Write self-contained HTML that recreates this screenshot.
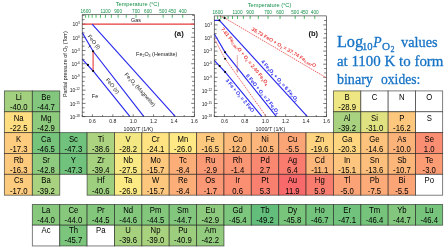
<!DOCTYPE html>
<html><head><meta charset="utf-8"><title>Oxide stability</title>
<style>html,body{margin:0;padding:0;background:#fff}svg{display:block;filter:blur(.35px)}</style></head>
<body>
<svg width="448" height="252" viewBox="0 0 448 252">
<rect width="448" height="252" fill="#fff"/>
<g font-family="'Liberation Sans',sans-serif">
<rect x="214.25" y="15.90" width="112.30" height="100.70" fill="#fff" stroke="none"/>
<path d="M214.25 116.60h3.30M326.55 116.60h-3.30M214.25 112.23h2.40M326.55 112.23h-2.40M214.25 107.87h2.40M326.55 107.87h-2.40M214.25 103.50h3.30M326.55 103.50h-3.30M214.25 99.13h2.40M326.55 99.13h-2.40M214.25 94.77h2.40M326.55 94.77h-2.40M214.25 90.40h3.30M326.55 90.40h-3.30M214.25 86.03h2.40M326.55 86.03h-2.40M214.25 81.67h2.40M326.55 81.67h-2.40M214.25 77.30h3.30M326.55 77.30h-3.30M214.25 72.93h2.40M326.55 72.93h-2.40M214.25 68.57h2.40M326.55 68.57h-2.40M214.25 64.20h3.30M326.55 64.20h-3.30M214.25 59.83h2.40M326.55 59.83h-2.40M214.25 55.47h2.40M326.55 55.47h-2.40M214.25 51.10h3.30M326.55 51.10h-3.30M214.25 46.73h2.40M326.55 46.73h-2.40M214.25 42.37h2.40M326.55 42.37h-2.40M214.25 38.00h3.30M326.55 38.00h-3.30M214.25 33.63h2.40M326.55 33.63h-2.40M214.25 29.27h2.40M326.55 29.27h-2.40M214.25 24.90h3.30M326.55 24.90h-3.30M214.25 20.53h2.40M326.55 20.53h-2.40M214.25 116.60v-1.60M224.45 116.60v-2.30M234.65 116.60v-1.60M244.85 116.60v-2.30M255.05 116.60v-1.60M265.25 116.60v-2.30M275.45 116.60v-1.60M285.65 116.60v-2.30M295.85 116.60v-1.60M306.05 116.60v-2.30M316.25 116.60v-1.60M326.45 116.60v-2.30" stroke="#222" stroke-width=".6" fill="none"/>
<path d="M314.78 15.90v3.1M295.18 15.90v3.1M280.07 15.90v3.1M268.06 15.90v3.1M258.30 15.90v3.1M250.20 15.90v3.1M243.37 15.90v3.1M237.53 15.90v3.1M232.49 15.90v3.1M228.09 15.90v3.1M224.21 15.90v3.1M220.77 15.90v3.1M217.70 15.90v3.1M304.30 15.90v3.1" stroke="#20b040" stroke-width=".8" fill="none"/>
<g font-size="4.7" fill="#15904a" text-anchor="middle">
<text x="217.70" y="13.70">1600</text>
<text x="237.53" y="13.70">1100</text>
<text x="250.20" y="13.70">900</text>
<text x="268.06" y="13.70">700</text>
<text x="280.07" y="13.70">600</text>
<text x="295.18" y="13.70">500</text>
<text x="304.30" y="13.70">450</text>
<text x="314.78" y="13.70">400</text>
</g>
<text x="269.53" y="7.20" font-size="5.7" fill="#15904a" text-anchor="middle">Temperature (°C)</text>
<g font-size="5.1" fill="#222" text-anchor="middle">
<text x="224.45" y="123.00">0.6</text>
<text x="244.85" y="123.00">0.8</text>
<text x="265.25" y="123.00">1.0</text>
<text x="285.65" y="123.00">1.2</text>
<text x="306.05" y="123.00">1.4</text>
<text x="326.45" y="123.00">1.6</text>
</g>
<text x="270.35" y="131.10" font-size="5.35" fill="#222" text-anchor="middle">1000/<tspan font-style="italic">T</tspan> (1/K)</text>
<g font-size="5" fill="#222" text-anchor="end">
<text x="211.95" y="27.10">10<tspan font-size="3.2" dy="-2">3</tspan></text>
<text x="211.95" y="40.20">10<tspan font-size="3.2" dy="-2">0</tspan></text>
<text x="211.95" y="53.30">10<tspan font-size="3.2" dy="-2">-3</tspan></text>
<text x="211.95" y="66.40">10<tspan font-size="3.2" dy="-2">-6</tspan></text>
<text x="211.95" y="79.50">10<tspan font-size="3.2" dy="-2">-9</tspan></text>
<text x="211.95" y="92.60">10<tspan font-size="3.2" dy="-2">-12</tspan></text>
<text x="211.95" y="105.70">10<tspan font-size="3.2" dy="-2">-15</tspan></text>
<text x="211.95" y="118.80">10<tspan font-size="3.2" dy="-2">-18</tspan></text>
</g>
<g fill="none" stroke-width="1.15">
<path d="M214.25 20.3H219.4L307.4 116.6M214.25 33.7L225.1 52.3L276.4 116.6M214.25 60.3L225.1 72L262 116.6" stroke="#2b2bee"/>
<path d="M219.8 15.9L224.7 18L326.55 77.9M214.25 38.7L225.1 58.7L266.3 116.6" stroke="#e83a3a" stroke-width=".85" stroke-dasharray="1.3 .9"/>
<path d="M237.3 55V71.5M236.5 69.6L237.3 72.4L238.1 69.6" stroke="#c46a6a" stroke-width=".55"/>
</g>
<g fill="#000"><circle cx="219.4" cy="20.3" r="1.05"/><circle cx="224.7" cy="18.1" r="1.05"/><circle cx="225.1" cy="52.3" r="1.05"/><circle cx="225.1" cy="58.7" r="1.05"/><circle cx="219.7" cy="66" r="1.05"/><circle cx="225.1" cy="72" r="1.05"/></g>
<rect x="214.25" y="15.90" width="112.30" height="100.70" fill="none" stroke="#333" stroke-width=".65"/>
<g font-size="5.1" font-weight="bold" text-anchor="middle">
<text transform="translate(283.0 48.8) rotate(30.4)" fill="#e83a3a">35.73 FeO + O<tspan font-size="3.4" dy="1.1">2</tspan><tspan dy="-1.1"> =</tspan> 37.74 Fe<tspan font-size="3.4" dy="1.1">0.947</tspan><tspan dy="-1.1">O</tspan></text>
<text transform="translate(243.6 57.4) rotate(51)" fill="#e83a3a">7.61 Fe<tspan font-size="3.4" dy="1.1">0.947</tspan><tspan dy="-1.1">O + O</tspan><tspan font-size="3.4" dy="1.1">2</tspan><tspan dy="-1.1"> = 2.40 Fe</tspan><tspan font-size="3.4" dy="1.1">3</tspan><tspan dy="-1.1">O</tspan><tspan font-size="3.4" dy="1.1">4</tspan><tspan dy="-1.1"></tspan></text>
<text transform="translate(278.4 81.8) rotate(48.5)" fill="#2b2bee">4 Fe<tspan font-size="3.4" dy="1.1">3</tspan><tspan dy="-1.1">O</tspan><tspan font-size="3.4" dy="1.1">4</tspan><tspan dy="-1.1"> + O</tspan><tspan font-size="3.4" dy="1.1">2</tspan><tspan dy="-1.1"> = 6 Fe</tspan><tspan font-size="3.4" dy="1.1">2</tspan><tspan dy="-1.1">O</tspan><tspan font-size="3.4" dy="1.1">3</tspan><tspan dy="-1.1"></tspan></text>
<text transform="translate(261.4 95.0) rotate(51)" fill="#2b2bee">6 FeO + O<tspan font-size="3.4" dy="1.1">2</tspan><tspan dy="-1.1"> = 2 Fe</tspan><tspan font-size="3.4" dy="1.1">3</tspan><tspan dy="-1.1">O</tspan><tspan font-size="3.4" dy="1.1">4</tspan><tspan dy="-1.1"></tspan></text>
<text transform="translate(238.6 96.6) rotate(50)" fill="#2b2bee">3 Fe + O<tspan font-size="3.4" dy="1.1">2</tspan><tspan dy="-1.1"> = 2 FeO</tspan></text>
</g>
<text x="313.3" y="36" font-size="7.6" font-weight="bold" fill="#111" text-anchor="middle">(b)</text>
</g>
<g font-family="'Liberation Sans',sans-serif">
<rect x="82.20" y="14.70" width="112.30" height="101.90" fill="#fff" stroke="none"/>
<path d="M82.20 116.60h3.30M194.50 116.60h-3.30M82.20 112.20h2.40M194.50 112.20h-2.40M82.20 107.79h2.40M194.50 107.79h-2.40M82.20 103.39h3.30M194.50 103.39h-3.30M82.20 98.98h2.40M194.50 98.98h-2.40M82.20 94.58h2.40M194.50 94.58h-2.40M82.20 90.17h3.30M194.50 90.17h-3.30M82.20 85.77h2.40M194.50 85.77h-2.40M82.20 81.36h2.40M194.50 81.36h-2.40M82.20 76.96h3.30M194.50 76.96h-3.30M82.20 72.55h2.40M194.50 72.55h-2.40M82.20 68.15h2.40M194.50 68.15h-2.40M82.20 63.74h3.30M194.50 63.74h-3.30M82.20 59.34h2.40M194.50 59.34h-2.40M82.20 54.93h2.40M194.50 54.93h-2.40M82.20 50.53h3.30M194.50 50.53h-3.30M82.20 46.12h2.40M194.50 46.12h-2.40M82.20 41.72h2.40M194.50 41.72h-2.40M82.20 37.31h3.30M194.50 37.31h-3.30M82.20 32.91h2.40M194.50 32.91h-2.40M82.20 28.50h2.40M194.50 28.50h-2.40M82.20 24.10h3.30M194.50 24.10h-3.30M82.20 19.70h2.40M194.50 19.70h-2.40M82.20 15.29h2.40M194.50 15.29h-2.40M82.20 116.60v-1.60M92.40 116.60v-2.30M102.60 116.60v-1.60M112.80 116.60v-2.30M123.00 116.60v-1.60M133.20 116.60v-2.30M143.40 116.60v-1.60M153.60 116.60v-2.30M163.80 116.60v-1.60M174.00 116.60v-2.30M184.20 116.60v-1.60M194.40 116.60v-2.30" stroke="#222" stroke-width=".6" fill="none"/>
<path d="M182.73 14.70v3.1M163.13 14.70v3.1M148.02 14.70v3.1M136.01 14.70v3.1M126.25 14.70v3.1M118.15 14.70v3.1M111.32 14.70v3.1M105.48 14.70v3.1M100.44 14.70v3.1M96.04 14.70v3.1M92.16 14.70v3.1M88.72 14.70v3.1M85.65 14.70v3.1M172.25 14.70v3.1" stroke="#20b040" stroke-width=".8" fill="none"/>
<g font-size="4.7" fill="#15904a" text-anchor="middle">
<text x="85.65" y="12.50">1600</text>
<text x="105.48" y="12.50">1100</text>
<text x="118.15" y="12.50">900</text>
<text x="136.01" y="12.50">700</text>
<text x="148.02" y="12.50">600</text>
<text x="163.13" y="12.50">500</text>
<text x="172.25" y="12.50">450</text>
<text x="182.73" y="12.50">400</text>
</g>
<text x="137.48" y="6.00" font-size="5.7" fill="#15904a" text-anchor="middle">Temperature (°C)</text>
<g font-size="5.1" fill="#222" text-anchor="middle">
<text x="92.40" y="123.00">0.6</text>
<text x="112.80" y="123.00">0.8</text>
<text x="133.20" y="123.00">1.0</text>
<text x="153.60" y="123.00">1.2</text>
<text x="174.00" y="123.00">1.4</text>
<text x="194.40" y="123.00">1.6</text>
</g>
<text x="138.30" y="131.10" font-size="5.35" fill="#222" text-anchor="middle">1000/<tspan font-style="italic">T</tspan> (1/K)</text>
<g font-size="5" fill="#222" text-anchor="end">
<text x="79.90" y="26.30">10<tspan font-size="3.2" dy="-2">3</tspan></text>
<text x="79.90" y="39.51">10<tspan font-size="3.2" dy="-2">0</tspan></text>
<text x="79.90" y="52.73">10<tspan font-size="3.2" dy="-2">-3</tspan></text>
<text x="79.90" y="65.94">10<tspan font-size="3.2" dy="-2">-6</tspan></text>
<text x="79.90" y="79.16">10<tspan font-size="3.2" dy="-2">-9</tspan></text>
<text x="79.90" y="92.37">10<tspan font-size="3.2" dy="-2">-12</tspan></text>
<text x="79.90" y="105.59">10<tspan font-size="3.2" dy="-2">-15</tspan></text>
<text x="79.90" y="118.80">10<tspan font-size="3.2" dy="-2">-18</tspan></text>
</g>
<text transform="translate(66.9 64.2) rotate(-90)" font-size="5.4" fill="#222" text-anchor="middle">Partial pressure of O<tspan font-size="3.6" dy="1.2">2</tspan><tspan dy="-1.2"> (Torr)</tspan></text>
<g fill="none" stroke-width="1.15" stroke-linecap="butt">
<path d="M82.20 24.1H194.50" stroke="#e83a3a" stroke-width="1.1"/>
<path d="M92.1 24.1L175.4 116.6M82.20 32.6L93.1 51.3L143.9 116.6M82.20 59.1L93.1 71L130 116.6" stroke="#2b2bee"/>
<path d="M93.1 51.3V71" stroke="#e83a3a" stroke-width="1.1"/>
</g>
<g fill="#000"><circle cx="93.1" cy="51.3" r="1.05"/><circle cx="93.1" cy="71" r="1.05"/><circle cx="87.9" cy="64.9" r="1.05"/></g>
<path d="M90.3 45.2L88.6 47.6" stroke="#000" stroke-width=".6"/>
<rect x="82.20" y="14.70" width="112.30" height="101.90" fill="none" stroke="#333" stroke-width=".65"/>
<g font-size="5.4" fill="#222" text-anchor="middle">
<text x="136" y="21.9">Gas</text>
<text x="156.7" y="56.2">Fe<tspan font-size="3.6" dy="1.2">2</tspan><tspan dy="-1.2">O</tspan><tspan font-size="3.6" dy="1.2">3</tspan><tspan dy="-1.2"> (Hematite)</tspan></text>
<text x="95" y="97.6">Fe</text>
<text transform="translate(92.6 43.1) rotate(52)">FeO (l)</text>
<text transform="translate(111.2 87) rotate(51)">FeO (s)</text>
<text transform="translate(138.8 90.8) rotate(48)">Fe<tspan font-size="3.6" dy="1.2">3</tspan><tspan dy="-1.2">O</tspan><tspan font-size="3.6" dy="1.2">4</tspan><tspan dy="-1.2"> (Magnetite)</tspan></text>
</g>
<text x="179" y="36.4" font-size="7.8" font-weight="bold" fill="#111" text-anchor="middle">(a)</text>
</g>
<g font-family="'Liberation Serif',serif" font-size="15.6" fill="#1673c6" stroke="#1673c6" stroke-width=".3">
<text y="46.7"><tspan x="336.9" font-size="16.3">Log</tspan><tspan x="361.9" font-size="10.7" dy="2.9">10</tspan><tspan x="373.2" dy="-2.9" font-style="italic" textLength="8.4" lengthAdjust="spacingAndGlyphs">P</tspan><tspan x="381.9" font-size="11.2" dy="2.9">O</tspan><tspan x="390.4" font-size="8" dy="2.6">2</tspan><tspan x="401" dy="-5.5" textLength="36.6" lengthAdjust="spacingAndGlyphs">values</tspan></text>
<text y="66.3"><tspan x="336.9" textLength="106.6" lengthAdjust="spacingAndGlyphs">at 1100 K to form</tspan></text>
<text y="83.8"><tspan x="336.9" textLength="36" lengthAdjust="spacingAndGlyphs">binary</tspan><tspan x="381" textLength="39.3" lengthAdjust="spacingAndGlyphs">oxides:</tspan></text>
</g>
<g font-family="'Liberation Sans',sans-serif" font-size="8.7" text-anchor="middle" fill="#000">
<rect x="4.40" y="90.90" width="27.97" height="20.86" fill="#a2d07f" stroke="#1a1a1a" stroke-opacity=".62" stroke-width=".9"/><text transform="translate(18.69 100.00) scale(0.89 1)">Li</text><text transform="translate(18.69 110.20) scale(0.89 1)">-40.0</text>
<rect x="32.37" y="90.90" width="27.37" height="20.86" fill="#82c77d" stroke="#1a1a1a" stroke-opacity=".62" stroke-width=".9"/><text transform="translate(46.06 100.00) scale(0.89 1)">Be</text><text transform="translate(46.06 110.20) scale(0.89 1)">-44.7</text>
<rect x="333.44" y="90.90" width="27.37" height="20.86" fill="#eee683" stroke="#1a1a1a" stroke-opacity=".62" stroke-width=".9"/><text transform="translate(347.12 100.00) scale(0.89 1)">B</text><text transform="translate(347.12 110.20) scale(0.89 1)">-28.9</text>
<rect x="360.81" y="90.90" width="27.37" height="20.86" fill="#ffffff" stroke="#1a1a1a" stroke-opacity=".62" stroke-width=".9"/><text transform="translate(374.50 100.00) scale(0.89 1)">C</text>
<rect x="388.18" y="90.90" width="27.37" height="20.86" fill="#ffffff" stroke="#1a1a1a" stroke-opacity=".62" stroke-width=".9"/><text transform="translate(401.87 100.00) scale(0.89 1)">N</text>
<rect x="415.55" y="90.90" width="27.07" height="20.86" fill="#ffffff" stroke="#1a1a1a" stroke-opacity=".62" stroke-width=".9"/><text transform="translate(429.24 100.00) scale(0.89 1)">O</text>
<rect x="4.40" y="111.76" width="27.97" height="20.86" fill="#fede81" stroke="#1a1a1a" stroke-opacity=".62" stroke-width=".9"/><text transform="translate(18.69 120.86) scale(0.89 1)">Na</text><text transform="translate(18.69 131.06) scale(0.89 1)">-22.5</text>
<rect x="32.37" y="111.76" width="27.37" height="20.86" fill="#8eca7d" stroke="#1a1a1a" stroke-opacity=".62" stroke-width=".9"/><text transform="translate(46.06 120.86) scale(0.89 1)">Mg</text><text transform="translate(46.06 131.06) scale(0.89 1)">-42.9</text>
<rect x="333.44" y="111.76" width="27.37" height="20.86" fill="#a8d27f" stroke="#1a1a1a" stroke-opacity=".62" stroke-width=".9"/><text transform="translate(347.12 120.86) scale(0.89 1)">Al</text><text transform="translate(347.12 131.06) scale(0.89 1)">-39.2</text>
<rect x="360.81" y="111.76" width="27.37" height="20.86" fill="#e0e282" stroke="#1a1a1a" stroke-opacity=".62" stroke-width=".9"/><text transform="translate(374.50 120.86) scale(0.89 1)">Si</text><text transform="translate(374.50 131.06) scale(0.89 1)">-31.0</text>
<rect x="388.18" y="111.76" width="27.37" height="20.86" fill="#fdc87d" stroke="#1a1a1a" stroke-opacity=".62" stroke-width=".9"/><text transform="translate(401.87 120.86) scale(0.89 1)">P</text><text transform="translate(401.87 131.06) scale(0.89 1)">-16.2</text>
<rect x="415.55" y="111.76" width="27.07" height="20.86" fill="#ffffff" stroke="#1a1a1a" stroke-opacity=".62" stroke-width=".9"/><text transform="translate(429.24 120.86) scale(0.89 1)">S</text>
<rect x="4.40" y="132.62" width="27.97" height="20.86" fill="#fdcc7e" stroke="#1a1a1a" stroke-opacity=".62" stroke-width=".9"/><text transform="translate(18.69 141.72) scale(0.89 1)">K</text><text transform="translate(18.69 151.92) scale(0.89 1)">-17.3</text>
<rect x="32.37" y="132.62" width="27.37" height="20.86" fill="#76c37c" stroke="#1a1a1a" stroke-opacity=".62" stroke-width=".9"/><text transform="translate(46.06 141.72) scale(0.89 1)">Ca</text><text transform="translate(46.06 151.92) scale(0.89 1)">-46.5</text>
<rect x="59.74" y="132.62" width="27.37" height="20.86" fill="#70c27c" stroke="#1a1a1a" stroke-opacity=".62" stroke-width=".9"/><text transform="translate(73.42 141.72) scale(0.89 1)">Sc</text><text transform="translate(73.42 151.92) scale(0.89 1)">-47.3</text>
<rect x="87.11" y="132.62" width="27.37" height="20.86" fill="#acd37f" stroke="#1a1a1a" stroke-opacity=".62" stroke-width=".9"/><text transform="translate(100.80 141.72) scale(0.89 1)">Ti</text><text transform="translate(100.80 151.92) scale(0.89 1)">-38.6</text>
<rect x="114.48" y="132.62" width="27.37" height="20.86" fill="#f3e883" stroke="#1a1a1a" stroke-opacity=".62" stroke-width=".9"/><text transform="translate(128.16 141.72) scale(0.89 1)">V</text><text transform="translate(128.16 151.92) scale(0.89 1)">-28.2</text>
<rect x="141.85" y="132.62" width="27.37" height="20.86" fill="#ffe382" stroke="#1a1a1a" stroke-opacity=".62" stroke-width=".9"/><text transform="translate(155.53 141.72) scale(0.89 1)">Cr</text><text transform="translate(155.53 151.92) scale(0.89 1)">-24.1</text>
<rect x="169.22" y="132.62" width="27.37" height="20.86" fill="#ffe984" stroke="#1a1a1a" stroke-opacity=".62" stroke-width=".9"/><text transform="translate(182.91 141.72) scale(0.89 1)">Mn</text><text transform="translate(182.91 151.92) scale(0.89 1)">-26.0</text>
<rect x="196.59" y="132.62" width="27.37" height="20.86" fill="#fdc97e" stroke="#1a1a1a" stroke-opacity=".62" stroke-width=".9"/><text transform="translate(210.28 141.72) scale(0.89 1)">Fe</text><text transform="translate(210.28 151.92) scale(0.89 1)">-16.5</text>
<rect x="223.96" y="132.62" width="27.37" height="20.86" fill="#fcba7b" stroke="#1a1a1a" stroke-opacity=".62" stroke-width=".9"/><text transform="translate(237.65 141.72) scale(0.89 1)">Co</text><text transform="translate(237.65 151.92) scale(0.89 1)">-12.0</text>
<rect x="251.33" y="132.62" width="27.37" height="20.86" fill="#fcb57a" stroke="#1a1a1a" stroke-opacity=".62" stroke-width=".9"/><text transform="translate(265.01 141.72) scale(0.89 1)">Ni</text><text transform="translate(265.01 151.92) scale(0.89 1)">-10.5</text>
<rect x="278.70" y="132.62" width="27.37" height="20.86" fill="#fba476" stroke="#1a1a1a" stroke-opacity=".62" stroke-width=".9"/><text transform="translate(292.38 141.72) scale(0.89 1)">Cu</text><text transform="translate(292.38 151.92) scale(0.89 1)">-5.5</text>
<rect x="306.07" y="132.62" width="27.37" height="20.86" fill="#fed480" stroke="#1a1a1a" stroke-opacity=".62" stroke-width=".9"/><text transform="translate(319.75 141.72) scale(0.89 1)">Zn</text><text transform="translate(319.75 151.92) scale(0.89 1)">-19.6</text>
<rect x="333.44" y="132.62" width="27.37" height="20.86" fill="#fed680" stroke="#1a1a1a" stroke-opacity=".62" stroke-width=".9"/><text transform="translate(347.12 141.72) scale(0.89 1)">Ga</text><text transform="translate(347.12 151.92) scale(0.89 1)">-20.3</text>
<rect x="360.81" y="132.62" width="27.37" height="20.86" fill="#fdc37c" stroke="#1a1a1a" stroke-opacity=".62" stroke-width=".9"/><text transform="translate(374.50 141.72) scale(0.89 1)">Ge</text><text transform="translate(374.50 151.92) scale(0.89 1)">-14.6</text>
<rect x="388.18" y="132.62" width="27.37" height="20.86" fill="#fcb379" stroke="#1a1a1a" stroke-opacity=".62" stroke-width=".9"/><text transform="translate(401.87 141.72) scale(0.89 1)">As</text><text transform="translate(401.87 151.92) scale(0.89 1)">-10.0</text>
<rect x="415.55" y="132.62" width="27.07" height="20.86" fill="#fa8e72" stroke="#1a1a1a" stroke-opacity=".62" stroke-width=".9"/><text transform="translate(429.24 141.72) scale(0.89 1)">Se</text><text transform="translate(429.24 151.92) scale(0.89 1)">1.0</text>
<rect x="4.40" y="153.48" width="27.97" height="20.86" fill="#fdc97d" stroke="#1a1a1a" stroke-opacity=".62" stroke-width=".9"/><text transform="translate(18.69 162.58) scale(0.89 1)">Rb</text><text transform="translate(18.69 172.78) scale(0.89 1)">-16.3</text>
<rect x="32.37" y="153.48" width="27.37" height="20.86" fill="#8fcb7e" stroke="#1a1a1a" stroke-opacity=".62" stroke-width=".9"/><text transform="translate(46.06 162.58) scale(0.89 1)">Sr</text><text transform="translate(46.06 172.78) scale(0.89 1)">-42.8</text>
<rect x="59.74" y="153.48" width="27.37" height="20.86" fill="#70c27c" stroke="#1a1a1a" stroke-opacity=".62" stroke-width=".9"/><text transform="translate(73.42 162.58) scale(0.89 1)">Y</text><text transform="translate(73.42 172.78) scale(0.89 1)">-47.3</text>
<rect x="87.11" y="153.48" width="27.37" height="20.86" fill="#a6d17f" stroke="#1a1a1a" stroke-opacity=".62" stroke-width=".9"/><text transform="translate(100.80 162.58) scale(0.89 1)">Zr</text><text transform="translate(100.80 172.78) scale(0.89 1)">-39.4</text>
<rect x="114.48" y="153.48" width="27.37" height="20.86" fill="#f8e984" stroke="#1a1a1a" stroke-opacity=".62" stroke-width=".9"/><text transform="translate(128.16 162.58) scale(0.89 1)">Nb</text><text transform="translate(128.16 172.78) scale(0.89 1)">-27.5</text>
<rect x="141.85" y="153.48" width="27.37" height="20.86" fill="#fdc77d" stroke="#1a1a1a" stroke-opacity=".62" stroke-width=".9"/><text transform="translate(155.53 162.58) scale(0.89 1)">Mo</text><text transform="translate(155.53 172.78) scale(0.89 1)">-15.7</text>
<rect x="169.22" y="153.48" width="27.37" height="20.86" fill="#fcae78" stroke="#1a1a1a" stroke-opacity=".62" stroke-width=".9"/><text transform="translate(182.91 162.58) scale(0.89 1)">Tc</text><text transform="translate(182.91 172.78) scale(0.89 1)">-8.4</text>
<rect x="196.59" y="153.48" width="27.37" height="20.86" fill="#fb9b75" stroke="#1a1a1a" stroke-opacity=".62" stroke-width=".9"/><text transform="translate(210.28 162.58) scale(0.89 1)">Ru</text><text transform="translate(210.28 172.78) scale(0.89 1)">-2.9</text>
<rect x="223.96" y="153.48" width="27.37" height="20.86" fill="#fa9674" stroke="#1a1a1a" stroke-opacity=".62" stroke-width=".9"/><text transform="translate(237.65 162.58) scale(0.89 1)">Rh</text><text transform="translate(237.65 172.78) scale(0.89 1)">-1.4</text>
<rect x="251.33" y="153.48" width="27.37" height="20.86" fill="#fa8871" stroke="#1a1a1a" stroke-opacity=".62" stroke-width=".9"/><text transform="translate(265.01 162.58) scale(0.89 1)">Pd</text><text transform="translate(265.01 172.78) scale(0.89 1)">2.7</text>
<rect x="278.70" y="153.48" width="27.37" height="20.86" fill="#f97c6f" stroke="#1a1a1a" stroke-opacity=".62" stroke-width=".9"/><text transform="translate(292.38 162.58) scale(0.89 1)">Ag</text><text transform="translate(292.38 172.78) scale(0.89 1)">6.4</text>
<rect x="306.07" y="153.48" width="27.37" height="20.86" fill="#fcb77a" stroke="#1a1a1a" stroke-opacity=".62" stroke-width=".9"/><text transform="translate(319.75 162.58) scale(0.89 1)">Cd</text><text transform="translate(319.75 172.78) scale(0.89 1)">-11.1</text>
<rect x="333.44" y="153.48" width="27.37" height="20.86" fill="#fdc57d" stroke="#1a1a1a" stroke-opacity=".62" stroke-width=".9"/><text transform="translate(347.12 162.58) scale(0.89 1)">In</text><text transform="translate(347.12 172.78) scale(0.89 1)">-15.1</text>
<rect x="360.81" y="153.48" width="27.37" height="20.86" fill="#fdbf7c" stroke="#1a1a1a" stroke-opacity=".62" stroke-width=".9"/><text transform="translate(374.50 162.58) scale(0.89 1)">Sn</text><text transform="translate(374.50 172.78) scale(0.89 1)">-13.6</text>
<rect x="388.18" y="153.48" width="27.37" height="20.86" fill="#fcb67a" stroke="#1a1a1a" stroke-opacity=".62" stroke-width=".9"/><text transform="translate(401.87 162.58) scale(0.89 1)">Sb</text><text transform="translate(401.87 172.78) scale(0.89 1)">-10.7</text>
<rect x="415.55" y="153.48" width="27.07" height="20.86" fill="#fb9c75" stroke="#1a1a1a" stroke-opacity=".62" stroke-width=".9"/><text transform="translate(429.24 162.58) scale(0.89 1)">Te</text><text transform="translate(429.24 172.78) scale(0.89 1)">-3.0</text>
<rect x="4.40" y="174.34" width="27.97" height="20.86" fill="#fdcb7e" stroke="#1a1a1a" stroke-opacity=".62" stroke-width=".9"/><text transform="translate(18.69 183.44) scale(0.89 1)">Cs</text><text transform="translate(18.69 193.64) scale(0.89 1)">-17.0</text>
<rect x="32.37" y="174.34" width="27.37" height="20.86" fill="#a8d27f" stroke="#1a1a1a" stroke-opacity=".62" stroke-width=".9"/><text transform="translate(46.06 183.44) scale(0.89 1)">Ba</text><text transform="translate(46.06 193.64) scale(0.89 1)">-39.2</text>
<rect x="87.11" y="174.34" width="27.37" height="20.86" fill="#9ecf7e" stroke="#1a1a1a" stroke-opacity=".62" stroke-width=".9"/><text transform="translate(100.80 183.44) scale(0.89 1)">Hf</text><text transform="translate(100.80 193.64) scale(0.89 1)">-40.6</text>
<rect x="114.48" y="174.34" width="27.37" height="20.86" fill="#fcea84" stroke="#1a1a1a" stroke-opacity=".62" stroke-width=".9"/><text transform="translate(128.16 183.44) scale(0.89 1)">Ta</text><text transform="translate(128.16 193.64) scale(0.89 1)">-26.9</text>
<rect x="141.85" y="174.34" width="27.37" height="20.86" fill="#fdc77d" stroke="#1a1a1a" stroke-opacity=".62" stroke-width=".9"/><text transform="translate(155.53 183.44) scale(0.89 1)">W</text><text transform="translate(155.53 193.64) scale(0.89 1)">-15.7</text>
<rect x="169.22" y="174.34" width="27.37" height="20.86" fill="#fcae78" stroke="#1a1a1a" stroke-opacity=".62" stroke-width=".9"/><text transform="translate(182.91 183.44) scale(0.89 1)">Re</text><text transform="translate(182.91 193.64) scale(0.89 1)">-8.4</text>
<rect x="196.59" y="174.34" width="27.37" height="20.86" fill="#fa9774" stroke="#1a1a1a" stroke-opacity=".62" stroke-width=".9"/><text transform="translate(210.28 183.44) scale(0.89 1)">Os</text><text transform="translate(210.28 193.64) scale(0.89 1)">-1.7</text>
<rect x="223.96" y="174.34" width="27.37" height="20.86" fill="#fa8f72" stroke="#1a1a1a" stroke-opacity=".62" stroke-width=".9"/><text transform="translate(237.65 183.44) scale(0.89 1)">Ir</text><text transform="translate(237.65 193.64) scale(0.89 1)">0.6</text>
<rect x="251.33" y="174.34" width="27.37" height="20.86" fill="#f97f6f" stroke="#1a1a1a" stroke-opacity=".62" stroke-width=".9"/><text transform="translate(265.01 183.44) scale(0.89 1)">Pt</text><text transform="translate(265.01 193.64) scale(0.89 1)">5.3</text>
<rect x="278.70" y="174.34" width="27.37" height="20.86" fill="#f8696b" stroke="#1a1a1a" stroke-opacity=".62" stroke-width=".9"/><text transform="translate(292.38 183.44) scale(0.89 1)">Au</text><text transform="translate(292.38 193.64) scale(0.89 1)">11.9</text>
<rect x="306.07" y="174.34" width="27.37" height="20.86" fill="#f97d6f" stroke="#1a1a1a" stroke-opacity=".62" stroke-width=".9"/><text transform="translate(319.75 183.44) scale(0.89 1)">Hg</text><text transform="translate(319.75 193.64) scale(0.89 1)">5.9</text>
<rect x="333.44" y="174.34" width="27.37" height="20.86" fill="#fba276" stroke="#1a1a1a" stroke-opacity=".62" stroke-width=".9"/><text transform="translate(347.12 183.44) scale(0.89 1)">Tl</text><text transform="translate(347.12 193.64) scale(0.89 1)">-5.0</text>
<rect x="360.81" y="174.34" width="27.37" height="20.86" fill="#fcab78" stroke="#1a1a1a" stroke-opacity=".62" stroke-width=".9"/><text transform="translate(374.50 183.44) scale(0.89 1)">Pb</text><text transform="translate(374.50 193.64) scale(0.89 1)">-7.5</text>
<rect x="388.18" y="174.34" width="27.37" height="20.86" fill="#fba476" stroke="#1a1a1a" stroke-opacity=".62" stroke-width=".9"/><text transform="translate(401.87 183.44) scale(0.89 1)">Bi</text><text transform="translate(401.87 193.64) scale(0.89 1)">-5.5</text>
<rect x="415.55" y="174.34" width="27.07" height="20.86" fill="#ffffff" stroke="#1a1a1a" stroke-opacity=".62" stroke-width=".9"/><text transform="translate(429.24 183.44) scale(0.89 1)">Po</text>
<rect x="32.37" y="204.45" width="27.37" height="20.75" fill="#87c87d" stroke="#1a1a1a" stroke-opacity=".62" stroke-width=".9"/><text transform="translate(46.06 212.55) scale(0.89 1)">La</text><text transform="translate(46.06 222.55) scale(0.89 1)">-44.0</text>
<rect x="59.74" y="204.45" width="27.37" height="20.75" fill="#87c87d" stroke="#1a1a1a" stroke-opacity=".62" stroke-width=".9"/><text transform="translate(73.42 212.55) scale(0.89 1)">Ce</text><text transform="translate(73.42 222.55) scale(0.89 1)">-44.0</text>
<rect x="87.11" y="204.45" width="27.37" height="20.75" fill="#83c77d" stroke="#1a1a1a" stroke-opacity=".62" stroke-width=".9"/><text transform="translate(100.80 212.55) scale(0.89 1)">Pr</text><text transform="translate(100.80 222.55) scale(0.89 1)">-44.5</text>
<rect x="114.48" y="204.45" width="27.37" height="20.75" fill="#83c77d" stroke="#1a1a1a" stroke-opacity=".62" stroke-width=".9"/><text transform="translate(128.16 212.55) scale(0.89 1)">Nd</text><text transform="translate(128.16 222.55) scale(0.89 1)">-44.6</text>
<rect x="141.85" y="204.45" width="27.37" height="20.75" fill="#83c77d" stroke="#1a1a1a" stroke-opacity=".62" stroke-width=".9"/><text transform="translate(155.53 212.55) scale(0.89 1)">Pm</text><text transform="translate(155.53 222.55) scale(0.89 1)">-44.5</text>
<rect x="169.22" y="204.45" width="27.37" height="20.75" fill="#82c77d" stroke="#1a1a1a" stroke-opacity=".62" stroke-width=".9"/><text transform="translate(182.91 212.55) scale(0.89 1)">Sm</text><text transform="translate(182.91 222.55) scale(0.89 1)">-44.7</text>
<rect x="196.59" y="204.45" width="27.37" height="20.75" fill="#8eca7d" stroke="#1a1a1a" stroke-opacity=".62" stroke-width=".9"/><text transform="translate(210.28 212.55) scale(0.89 1)">Eu</text><text transform="translate(210.28 222.55) scale(0.89 1)">-42.9</text>
<rect x="223.96" y="204.45" width="27.37" height="20.75" fill="#7dc67d" stroke="#1a1a1a" stroke-opacity=".62" stroke-width=".9"/><text transform="translate(237.65 212.55) scale(0.89 1)">Gd</text><text transform="translate(237.65 222.55) scale(0.89 1)">-45.4</text>
<rect x="251.33" y="204.45" width="27.37" height="20.75" fill="#63be7b" stroke="#1a1a1a" stroke-opacity=".62" stroke-width=".9"/><text transform="translate(265.01 212.55) scale(0.89 1)">Tb</text><text transform="translate(265.01 222.55) scale(0.89 1)">-49.2</text>
<rect x="278.70" y="204.45" width="27.37" height="20.75" fill="#7ac57c" stroke="#1a1a1a" stroke-opacity=".62" stroke-width=".9"/><text transform="translate(292.38 212.55) scale(0.89 1)">Dy</text><text transform="translate(292.38 222.55) scale(0.89 1)">-45.8</text>
<rect x="306.07" y="204.45" width="27.37" height="20.75" fill="#74c37c" stroke="#1a1a1a" stroke-opacity=".62" stroke-width=".9"/><text transform="translate(319.75 212.55) scale(0.89 1)">Ho</text><text transform="translate(319.75 222.55) scale(0.89 1)">-46.7</text>
<rect x="333.44" y="204.45" width="27.37" height="20.75" fill="#71c27c" stroke="#1a1a1a" stroke-opacity=".62" stroke-width=".9"/><text transform="translate(347.12 212.55) scale(0.89 1)">Er</text><text transform="translate(347.12 222.55) scale(0.89 1)">-47.1</text>
<rect x="360.81" y="204.45" width="27.37" height="20.75" fill="#76c47c" stroke="#1a1a1a" stroke-opacity=".62" stroke-width=".9"/><text transform="translate(374.50 212.55) scale(0.89 1)">Tm</text><text transform="translate(374.50 222.55) scale(0.89 1)">-46.4</text>
<rect x="388.18" y="204.45" width="27.37" height="20.75" fill="#82c77d" stroke="#1a1a1a" stroke-opacity=".62" stroke-width=".9"/><text transform="translate(401.87 212.55) scale(0.89 1)">Yb</text><text transform="translate(401.87 222.55) scale(0.89 1)">-44.7</text>
<rect x="415.55" y="204.45" width="27.07" height="20.75" fill="#76c47c" stroke="#1a1a1a" stroke-opacity=".62" stroke-width=".9"/><text transform="translate(429.24 212.55) scale(0.89 1)">Lu</text><text transform="translate(429.24 222.55) scale(0.89 1)">-46.4</text>
<rect x="32.37" y="225.20" width="27.37" height="20.75" fill="#ffffff" stroke="#1a1a1a" stroke-opacity=".62" stroke-width=".9"/><text transform="translate(46.06 233.30) scale(0.89 1)">Ac</text>
<rect x="59.74" y="225.20" width="27.37" height="20.75" fill="#7bc57c" stroke="#1a1a1a" stroke-opacity=".62" stroke-width=".9"/><text transform="translate(73.42 233.30) scale(0.89 1)">Th</text><text transform="translate(73.42 243.30) scale(0.89 1)">-45.7</text>
<rect x="87.11" y="225.20" width="27.37" height="20.75" fill="#ffffff" stroke="#1a1a1a" stroke-opacity=".62" stroke-width=".9"/><text transform="translate(100.80 233.30) scale(0.89 1)">Pa</text>
<rect x="114.48" y="225.20" width="27.37" height="20.75" fill="#a5d17f" stroke="#1a1a1a" stroke-opacity=".62" stroke-width=".9"/><text transform="translate(128.16 233.30) scale(0.89 1)">U</text><text transform="translate(128.16 243.30) scale(0.89 1)">-39.6</text>
<rect x="141.85" y="225.20" width="27.37" height="20.75" fill="#a9d27f" stroke="#1a1a1a" stroke-opacity=".62" stroke-width=".9"/><text transform="translate(155.53 233.30) scale(0.89 1)">Np</text><text transform="translate(155.53 243.30) scale(0.89 1)">-39.0</text>
<rect x="169.22" y="225.20" width="27.37" height="20.75" fill="#9cce7e" stroke="#1a1a1a" stroke-opacity=".62" stroke-width=".9"/><text transform="translate(182.91 233.30) scale(0.89 1)">Pu</text><text transform="translate(182.91 243.30) scale(0.89 1)">-40.9</text>
<rect x="196.59" y="225.20" width="27.37" height="20.75" fill="#93cc7e" stroke="#1a1a1a" stroke-opacity=".62" stroke-width=".9"/><text transform="translate(210.28 233.30) scale(0.89 1)">Am</text><text transform="translate(210.28 243.30) scale(0.89 1)">-42.2</text>
</g>
</svg>
</body></html>
